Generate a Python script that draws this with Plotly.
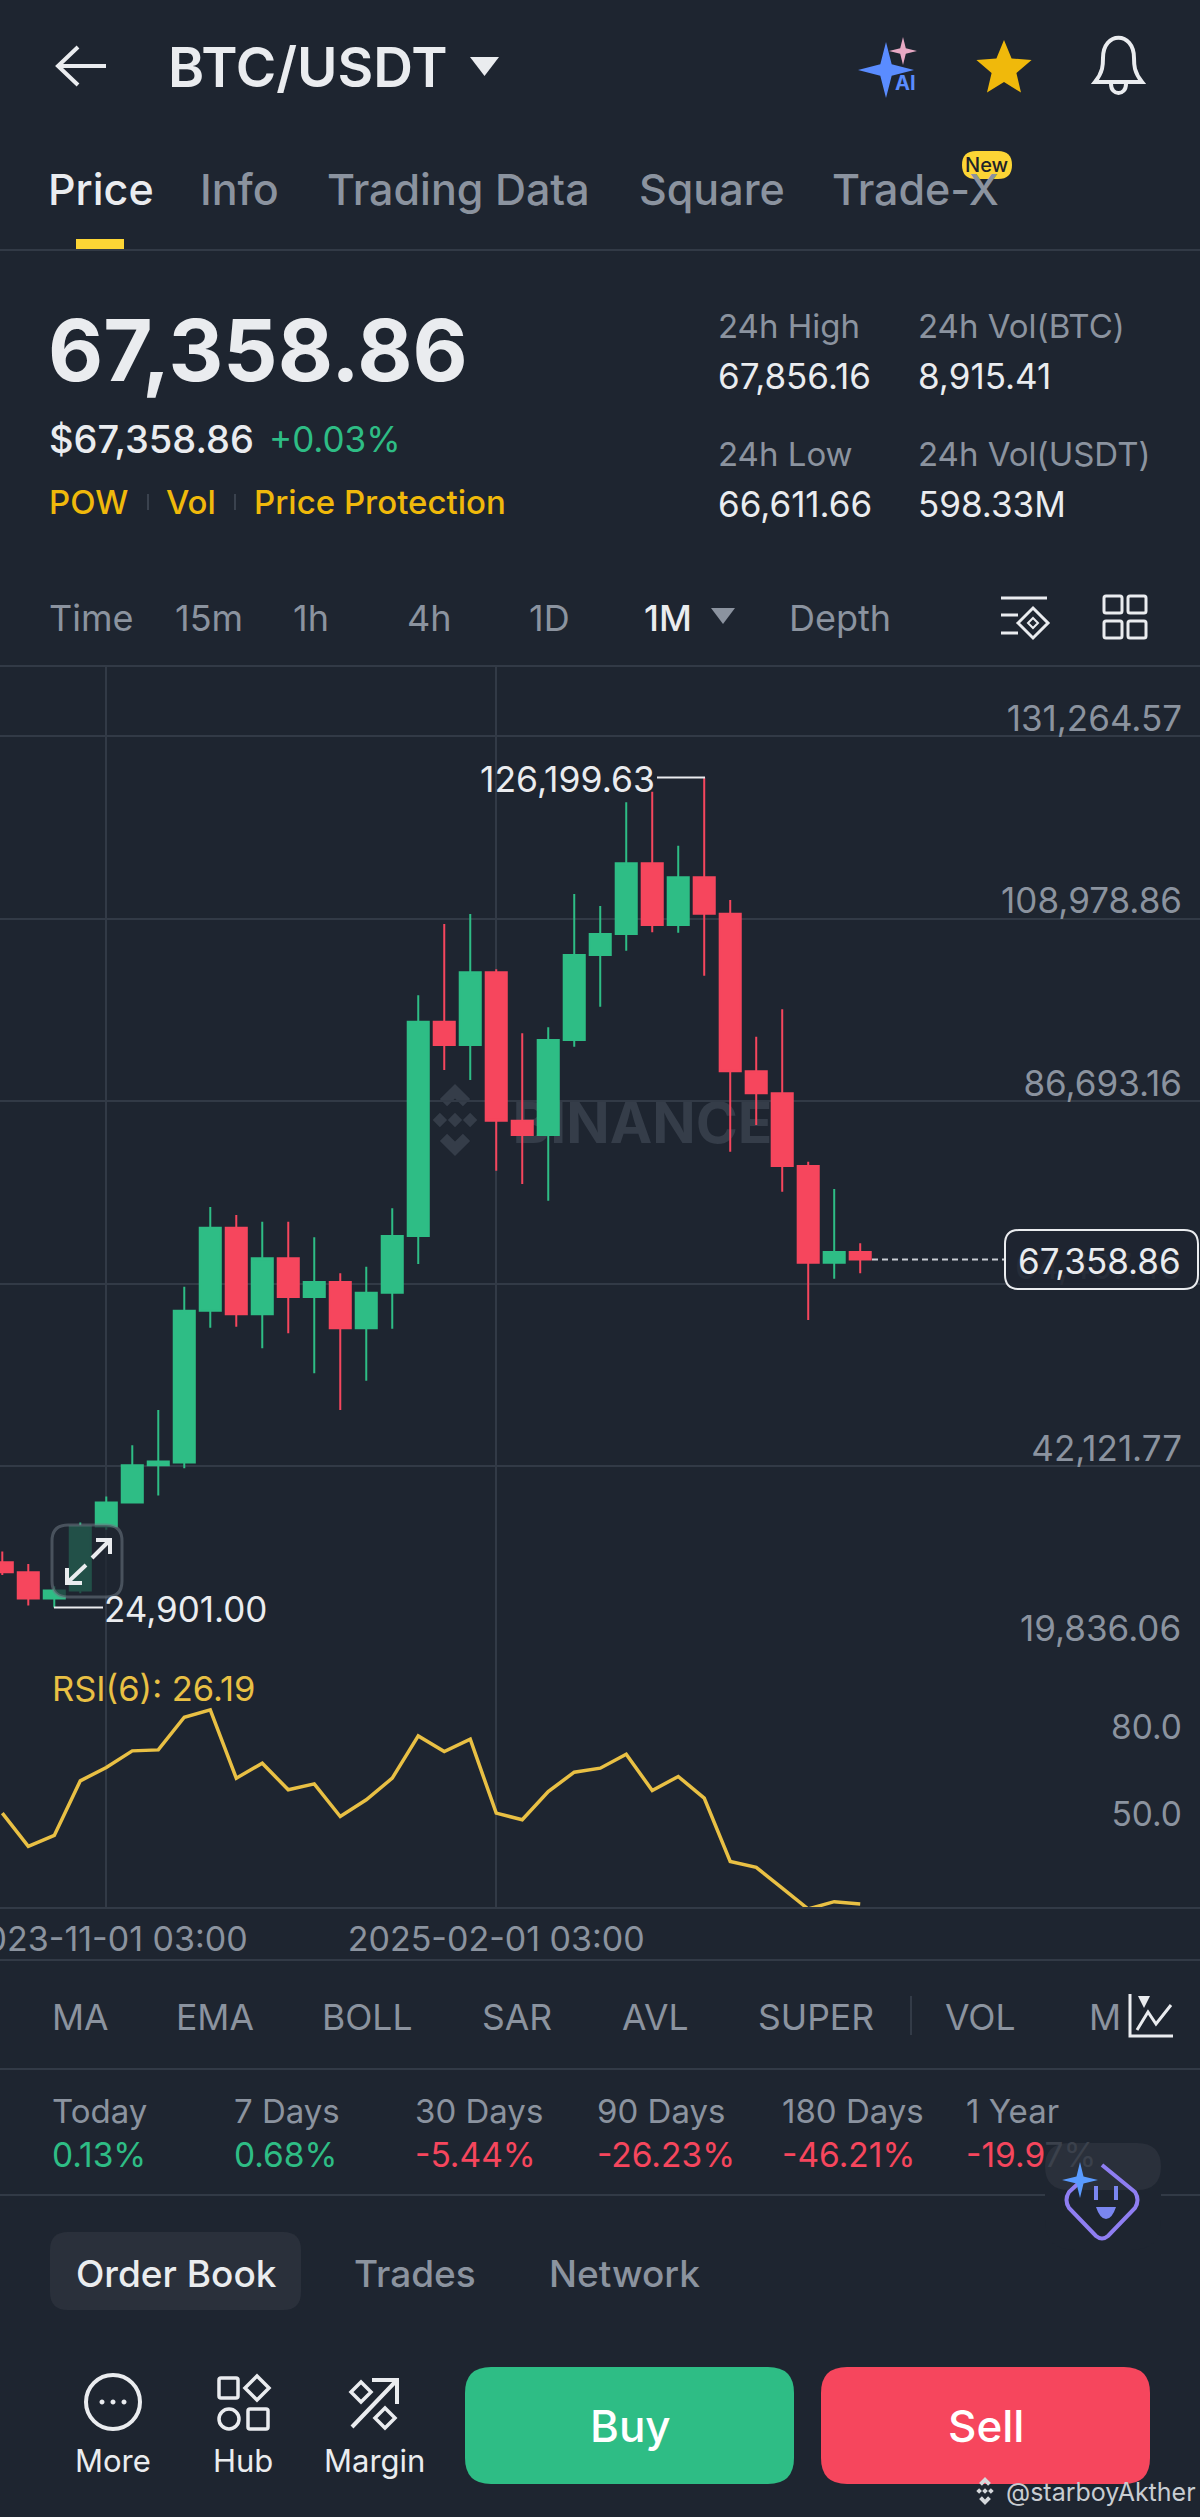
"""BTC/USDT monthly candles, Binance mobile screen."""

import math

import plotly.graph_objects as go

# Dados
MONTHS = [
    "2023-07-01 03:00", "2023-08-01 03:00", "2023-09-01 03:00", "2023-10-01 03:00",
    "2023-11-01 03:00", "2023-12-01 03:00", "2024-01-01 03:00", "2024-02-01 03:00",
    "2024-03-01 03:00", "2024-04-01 03:00", "2024-05-01 03:00", "2024-06-01 03:00",
    "2024-07-01 03:00", "2024-08-01 03:00", "2024-09-01 03:00", "2024-10-01 03:00",
    "2024-11-01 03:00", "2024-12-01 03:00", "2025-01-01 03:00", "2025-02-01 03:00",
    "2025-03-01 03:00", "2025-04-01 03:00", "2025-05-01 03:00", "2025-06-01 03:00",
    "2025-07-01 03:00", "2025-08-01 03:00", "2025-09-01 03:00", "2025-10-01 03:00",
    "2025-11-01 03:00", "2025-12-01 03:00", "2026-01-01 03:00", "2026-02-01 03:00",
    "2026-03-01 03:00", "2026-04-01 03:00",
]
OPEN = [
    30419, 29199, 25985, 26961, 34772, 37701, 42257, 42583, 61133, 71262, 60685, 67519,
    62801, 64631, 58977, 63329, 70245, 96402, 93555, 102423, 84320, 82571, 94165, 104538,
    107101, 115725, 108199, 114017, 109583, 90341, 87656, 78788, 66991, 68292,
]
HIGH = [
    31721, 30216, 27480, 35260, 38433, 44698, 49010, 64062, 73784, 72808, 71994, 71994,
    70082, 65689, 66502, 73621, 99616, 108321, 109542, 102789, 94978, 95711, 111983, 110518,
    123170, 124471, 117881, 126199.63, 111250, 94572, 97907, 79317, 75981, 69350,
]
LOW = [
    28873, 25131, 24901, 26635, 34400, 37620, 38555, 41891, 59058, 59180, 56536, 58366,
    53485, 49010, 52590, 58936, 66828, 90504, 89283, 78218, 76591, 74557, 93351, 98233,
    105067, 107304, 107263, 102016, 80537, 83791, 75655, 59994, 65038, 65689,
]
CLOSE = [
    29199, 25985, 26961, 34772, 37701, 42257, 42705, 61133, 71262, 60685, 67519, 62801,
    64631, 58977, 63329, 70245, 96402, 93555, 102423, 84320, 82571, 94165, 104538, 107101,
    115725, 108199, 114017, 109583, 90341, 87656, 78788, 66991, 68292, 67358.86,
]
RSI = [
    57.68, 46.14, 49.95, 68.87, 73.48, 79.25, 79.59, 90.90, 93.43, 69.79, 74.98, 65.75,
    67.83, 56.52, 62.29, 69.79, 84.44, 79.02, 83.28, 57.68, 55.37, 65.18, 71.86, 73.25,
    78.09, 65.52, 70.37, 62.87, 40.95, 38.88, 31.73, 24.46, 27.00, 26.19,
]
PRICE_TICKS = [131264.57, 108978.86, 86693.16, 64407.46, 42121.77, 19836.06]
RSI_TICKS = [80, 50]
DATE_TICKS = ["2023-11-01 03:00", "2025-02-01 03:00"]
LAST_PRICE = 67358.86
HIGH_PRICE = 126199.63

TABS = ["Price", "Info", "Trading Data", "Square", "Trade-X"]
TIMEFRAMES = ["Time", "15m", "1h", "4h", "1D", "1M", "Depth"]
INDICATORS = ["MA", "EMA", "BOLL", "SAR", "AVL", "SUPER", "VOL", "M"]
PERIODS = ["Today", "7 Days", "30 Days", "90 Days", "180 Days", "1 Year"]
PERIOD_CHANGES = ["0.13%", "0.68%", "-5.44%", "-26.23%", "-46.21%", "-19.9<span style='color:#3B414C'>7%</span>"]
STAT_LABELS = ["24h High", "24h Vol(BTC)", "24h Low", "24h Vol(USDT)"]
STAT_VALUES = ["67,856.16", "8,915.41", "66,611.66", "598.33M"]
TAGS = ["POW", "Vol", "Price Protection"]
BOOK_TABS = ["Order Book", "Trades", "Network"]
TOOLS = ["More", "Hub", "Margin"]

# Cores do tema
BG = "#1E2530"
GRID = "#323A46"
WHITE = "#EAECEF"
GRAY = "#8B939F"
GREEN = "#2EBD85"
RED = "#F6465D"
GOLD = "#F0B90B"
YELLOW = "#FCD535"
RSI_LINE = "#E9C044"
MARK = "#353D49"
FONT = "Inter, Roboto, sans-serif"

W, H = 1200, 2517
PRICE_TOP, PRICE_BOTTOM, RSI_BOTTOM = 666, 1649, 1908

shapes = []
annotations = []


def text(x, y, s, size, color=WHITE, anchor="left", weight=400):
    annotations.append(
        dict(
            x=x, y=y, xref="x3", yref="y3", text=s, showarrow=False,
            xanchor=anchor, yanchor="middle", borderpad=0,
            font=dict(family=FONT, size=size, color=color, weight=weight),
        )
    )


def path(d, fill="rgba(0,0,0,0)", line=None, width=0):
    shapes.append(
        dict(
            type="path", path=d, xref="x3", yref="y3", fillcolor=fill,
            line=dict(color=line or "rgba(0,0,0,0)", width=width),
        )
    )


def hline(y, x0=0, x1=W, color=GRID, width=2):
    path(f"M {x0} {y} L {x1} {y}", line=color, width=width)


def rrect(x0, y0, x1, y1, r):
    return (
        f"M {x0 + r} {y0} L {x1 - r} {y0} Q {x1} {y0} {x1} {y0 + r} "
        f"L {x1} {y1 - r} Q {x1} {y1} {x1 - r} {y1} L {x0 + r} {y1} "
        f"Q {x0} {y1} {x0} {y1 - r} L {x0} {y0 + r} Q {x0} {y0} {x0 + r} {y0} Z"
    )


def circle(cx, cy, r):
    k = r * 0.552
    return (
        f"M {cx - r} {cy} C {cx - r} {cy - k} {cx - k} {cy - r} {cx} {cy - r} "
        f"C {cx + k} {cy - r} {cx + r} {cy - k} {cx + r} {cy} "
        f"C {cx + r} {cy + k} {cx + k} {cy + r} {cx} {cy + r} "
        f"C {cx - k} {cy + r} {cx - r} {cy + k} {cx - r} {cy} Z"
    )


def diamond(cx, cy, r):
    return f"M {cx} {cy - r} L {cx + r} {cy} L {cx} {cy + r} L {cx - r} {cy} Z"


def star(cx, cy, r_out, r_in, n=5):
    pts = []
    for i in range(n * 2):
        r = r_out if i % 2 == 0 else r_in
        a = -math.pi / 2 + i * math.pi / n
        pts.append(f"{cx + r * math.cos(a):.1f} {cy + r * math.sin(a):.1f}")
    return "M " + " L ".join(pts) + " Z"


def triangle(x0, x1, y0, y1):
    return f"M {x0} {y0} L {x1} {y0} L {(x0 + x1) / 2} {y1} Z"


def logo_parts(cx, cy, s):
    """Diamantes do logo, em unidades de pixel."""
    return [
        [(cx, cy - s * 0.2), (cx + s * 0.2, cy), (cx, cy + s * 0.2), (cx - s * 0.2, cy)],
        [(cx - s * 0.62, cy), (cx - s * 0.42, cy - s * 0.2), (cx - s * 0.22, cy), (cx - s * 0.42, cy + s * 0.2)],
        [(cx + s * 0.62, cy), (cx + s * 0.42, cy - s * 0.2), (cx + s * 0.22, cy), (cx + s * 0.42, cy + s * 0.2)],
        [(cx, cy - s), (cx + s * 0.42, cy - s * 0.58), (cx + s * 0.22, cy - s * 0.38), (cx, cy - s * 0.6),
         (cx - s * 0.22, cy - s * 0.38), (cx - s * 0.42, cy - s * 0.58)],
        [(cx, cy + s), (cx + s * 0.42, cy + s * 0.58), (cx + s * 0.22, cy + s * 0.38), (cx, cy + s * 0.6),
         (cx - s * 0.22, cy + s * 0.38), (cx - s * 0.42, cy + s * 0.58)],
    ]


fig = go.Figure()

fig.add_trace(
    go.Candlestick(
        x=MONTHS, open=OPEN, high=HIGH, low=LOW, close=CLOSE,
        increasing=dict(line=dict(color=GREEN, width=2), fillcolor=GREEN),
        decreasing=dict(line=dict(color=RED, width=2), fillcolor=RED),
        xaxis="x", yaxis="y", showlegend=False,
    )
)
fig.add_trace(
    go.Scatter(
        x=MONTHS, y=RSI, mode="lines", line=dict(color=RSI_LINE, width=3.5),
        xaxis="x2", yaxis="y2", showlegend=False, cliponaxis=False,
    )
)
# Eixos auxiliares em pixels para a interface do app
fig.add_trace(go.Scatter(x=[], y=[], xaxis="x3", yaxis="y3", showlegend=False))

# Marca d'agua, abaixo das velas
for part in logo_parts(455, 1120, 36):
    d = "M " + " L ".join(f"{x / W:.5f} {1 - y / H:.5f}" for x, y in part) + " Z"
    shapes.append(
        dict(type="path", path=d, xref="paper", yref="paper", fillcolor=MARK,
             line=dict(width=0), layer="below")
    )
shapes.append(
    dict(
        type="rect", xref="paper", yref="paper", x0=495 / W, x1=790 / W,
        y0=1 - 1150 / H, y1=1 - 1090 / H, line=dict(width=0),
        fillcolor="rgba(0,0,0,0)", layer="below",
        label=dict(text="BINANCE", textposition="middle center",
                   font=dict(family=FONT, size=57, color=MARK, weight=700)),
    )
)

# Cabecalho
path("M 106 66 L 58 66 M 78 47 L 58 66 L 78 85", line=WHITE, width=4)
text(167, 67, "BTC/USDT", 55, anchor="left", weight=600)
path(triangle(470, 499, 57, 76), fill=WHITE)
path(star(886, 70, 28, 8, 4), fill="#5A8CFF")
path(star(903, 51, 14, 4, 4), fill="#E8A9C4")
text(905, 83, "AI", 20, color="#5A8CFF", anchor="center", weight=700)
path(star(1004, 69, 29, 13), fill=GOLD)
path(
    "M 1095 82 C 1103 72 1103 65 1103 58 C 1103 31 1134 31 1134 58 C 1134 65 1134 72 1142 82 Z "
    "M 1111 84 C 1111 96 1126 96 1126 84",
    line=WHITE, width=4,
)

# Abas
for label, x, color in zip(TABS, [47, 199, 326, 638, 831], [WHITE, GRAY, GRAY, GRAY, GRAY]):
    text(x, 189, label, 43, color=color, weight=500)
path(rrect(962, 151, 1012, 179, 14), fill=YELLOW)
text(987, 165, "New", 20, color="#1E2329", anchor="center", weight=500)
path("M 76 239 L 124 239 L 124 249 L 76 249 Z", fill=YELLOW)
hline(250)

# Preco
text(47, 350, "67,358.86", 85, weight=700)
text(48, 439, "$67,358.86", 38, weight=500)
text(268, 439, "+0.03%", 35, color=GREEN)
for label, x in zip(TAGS, [48, 165, 253]):
    text(x, 502, label, 33, color=GOLD, weight=500)
for x in [148, 235]:
    path(f"M {x} 494 L {x} 510", line="#3A424E", width=2)
for label, x, y in zip(STAT_LABELS, [717, 917, 717, 917], [326, 326, 454, 454]):
    text(x, y, label, 33, color=GRAY)
for value, x, y in zip(STAT_VALUES, [717, 917, 717, 917], [376, 376, 504, 504]):
    text(x, y, value, 35)

# Intervalos
for label, x in zip(TIMEFRAMES, [48, 174, 292, 406, 528, 643, 788]):
    active = label == "1M"
    text(x, 618, label, 36, color=WHITE if active else GRAY, weight=500 if active else 400)
path(triangle(711, 735, 608, 624), fill=GRAY)
path("M 1001 598 L 1047 598 M 1001 615 L 1018 615 M 1001 633 L 1018 633", line=WHITE, width=3)
path(diamond(1033, 623, 15), line=WHITE, width=3)
path(diamond(1033, 623, 5), line=WHITE, width=2)
for x0, y0 in [(1104, 596), (1128, 596), (1104, 621), (1128, 621)]:
    path(rrect(x0, y0, x0 + 18, y0 + 17, 2), line=WHITE, width=3)
hline(PRICE_TOP)

# Rotulos do grafico
shapes.append(
    dict(type="line", xref="x3", yref="y", x0=657, x1=705, y0=HIGH_PRICE, y1=HIGH_PRICE,
         line=dict(color=WHITE, width=2))
)
text(656, 779, "126,199.63", 35.5, anchor="right")
shapes.append(
    dict(type="line", xref="x3", yref="y", x0=54, x1=103, y0=LOW[2], y1=LOW[2],
         line=dict(color=WHITE, width=2))
)
text(103, 1609, "24,901.00", 35)
shapes.append(
    dict(type="line", xref="x3", yref="y", x0=872, x1=1005, y0=LAST_PRICE, y1=LAST_PRICE,
         line=dict(color="#C8CCD2", width=2, dash="6px,4px"))
)
path(rrect(1005, 1230, 1198, 1289, 14), fill="rgba(30,37,48,0.93)", line=WHITE, width=2)
text(1182, 1261, "67,358.86", 35, anchor="right")
text(51, 1688, "RSI(6): 26.19", 34.5, color=RSI_LINE)
# O ultimo rotulo sairia do dominio do eixo e seria escondido pelo plotly
text(1182, 1628, f"{PRICE_TICKS[-1]:,.2f}", 35, color=GRAY, anchor="right")

# Botao de expandir
path(rrect(52, 1525, 122, 1597, 16), fill="rgba(30,37,48,0.72)", line="rgba(110,120,132,0.55)", width=3)
path("M 92 1558 L 109 1541 M 96 1540 L 110 1540 L 110 1554", line=WHITE, width=4)
path("M 86 1565 L 68 1582 M 82 1583 L 67 1583 L 67 1568", line=WHITE, width=4)

# Linhas do painel RSI
hline(RSI_BOTTOM)
hline(1960)

# Indicadores
for label, x in zip(INDICATORS, [51, 175, 321, 481, 621, 757, 944, 1088]):
    text(x, 2017, label, 35.5, color=GRAY)
path("M 911 1996 L 911 2035", line="#333B47", width=2)
path("M 1118 1990 L 1200 1990 L 1200 2045 L 1118 2045 Z", fill=BG)
path("M 1130 1994 L 1130 2036 L 1173 2036", line=WHITE, width=3)
path(triangle(1138, 1150, 1996, 2008), fill=WHITE)
path("M 1137 2030 L 1148 2012 L 1156 2024 L 1171 2005", line=WHITE, width=3)
hline(2069)

# Variacoes por periodo
PERIOD_X = [51, 233, 414, 596, 781, 965]
for label, x in zip(PERIODS, PERIOD_X):
    text(x, 2111, label, 33, color=GRAY)
for value, x in zip(PERIOD_CHANGES, PERIOD_X):
    text(x, 2155, value, 33.5, color=RED if value.startswith("-") else GREEN)
hline(2195)

# Botao do assistente
path(rrect(1045, 2143, 1161, 2250, 30), fill=BG)
path(rrect(1045, 2143, 1161, 2190, 24), fill="#2A303B")
path(
    "M 1102 2165 L 1135 2192 Q 1140 2200 1135 2208 L 1108 2236 Q 1102 2241 1096 2236 "
    "L 1069 2208 Q 1064 2200 1069 2192 L 1082 2180",
    line="#8F7EF2", width=4,
)
path(star(1080, 2180, 18, 5, 4), fill="#5A9BFF")
path("M 1096 2186 L 1096 2200 M 1116 2186 L 1116 2200", line="#7A86F0", width=4)
path("M 1096 2207 L 1116 2207 Q 1112 2219 1106 2219 Q 1100 2219 1096 2207 Z", fill="#7A86F0")

# Abas do livro de ofertas
path(rrect(50, 2232, 301, 2310, 18), fill="#2A303B")
for label, x, color in zip(BOOK_TABS, [75, 353, 548], [WHITE, GRAY, GRAY]):
    text(x, 2273, label, 37, color=color, weight=500)

# Barra inferior
path(circle(113, 2402, 27), line=WHITE, width=4)
for x in [102, 113, 124]:
    path(circle(x, 2402, 2.5), fill=WHITE)
path(rrect(219, 2378, 238, 2398, 2), line=WHITE, width=3.5)
path(diamond(257, 2388, 12), line=WHITE, width=3.5)
path(circle(229, 2419, 10), line=WHITE, width=3.5)
path(rrect(248, 2409, 268, 2429, 2), line=WHITE, width=3.5)
path("M 352 2427 L 397 2380 M 372 2380 L 397 2380 L 397 2404", line=WHITE, width=4)
path(diamond(361, 2392, 10), line=WHITE, width=3.5)
path(diamond(385, 2418, 10), line=WHITE, width=3.5)
for label, x in zip(TOOLS, [113, 243, 374]):
    text(x, 2460, label, 31, anchor="center")
path(rrect(465, 2367, 794, 2484, 26), fill=GREEN)
text(630, 2426, "Buy", 44, color="#FFFFFF", anchor="center", weight=500)
path(rrect(821, 2367, 1150, 2484, 26), fill=RED)
text(986, 2426, "Sell", 44, color="#FFFFFF", anchor="center", weight=500)

# Assinatura
for part in logo_parts(985, 2491, 14):
    path("M " + " L ".join(f"{x} {y}" for x, y in part) + " Z", fill="#D5D8DC")
text(1005, 2492, "@starboyAkther", 25, color="#C9CDD2")

fig.update_layout(
    width=W, height=H, margin=dict(l=0, r=0, t=0, b=0, autoexpand=False), autosize=False,
    paper_bgcolor=BG, plot_bgcolor="rgba(0,0,0,0)", showlegend=False,
    boxgap=0.19, boxgroupgap=0, dragmode=False, hovermode=False,
    font=dict(family=FONT, color=GRAY),
    xaxis=dict(
        type="category", categoryorder="array", categoryarray=MONTHS,
        range=[-0.088, 46.07], domain=[0, 1], anchor="y", rangeslider=dict(visible=False),
        tickmode="array", tickvals=DATE_TICKS, showticklabels=False, ticks="",
        showgrid=True, gridcolor=GRID, gridwidth=1.5, zeroline=False,
    ),
    yaxis=dict(
        domain=[1 - PRICE_BOTTOM / H, 1 - PRICE_TOP / H], range=[19836.06, 139808],
        anchor="x", side="right", tickmode="array", tickvals=PRICE_TICKS,
        ticktext=[f"{v:,.2f}" for v in PRICE_TICKS[:-1]] + [""], ticklabelposition="inside top",
        ticks="", ticklabelstandoff=15, ticklabelshift=7,
        tickfont=dict(family=FONT, size=35, color=GRAY),
        showgrid=True, gridcolor=GRID, gridwidth=2, zeroline=False,
    ),
    xaxis2=dict(
        type="category", categoryorder="array", categoryarray=MONTHS,
        range=[-0.088, 46.07], domain=[0, 1], anchor="y2",
        tickmode="array", tickvals=DATE_TICKS, ticks="", ticklabeloverflow="allow",
        ticklabelstandoff=8, tickangle=0, tickfont=dict(family=FONT, size=34, color=GRAY),
        showgrid=True, gridcolor=GRID, gridwidth=1.5, zeroline=False,
    ),
    yaxis2=dict(
        domain=[1 - RSI_BOTTOM / H, 1 - PRICE_BOTTOM / H], range=[24.81, 114.54],
        anchor="x2", side="right", tickmode="array", tickvals=RSI_TICKS,
        ticktext=[f"{v:.1f}" for v in RSI_TICKS], ticklabelposition="inside top",
        ticks="", ticklabelstandoff=15, ticklabelshift=2,
        tickfont=dict(family=FONT, size=33.5, color=GRAY),
        showgrid=False, zeroline=False,
    ),
    xaxis3=dict(range=[0, W], domain=[0, 1], anchor="y3", visible=False, fixedrange=True),
    yaxis3=dict(range=[H, 0], domain=[0, 1], anchor="x3", visible=False, fixedrange=True),
    shapes=shapes,
    annotations=annotations,
)

fig.write_html(
    "out.html",
    config={"displayModeBar": False},
    post_script="document.body.style.margin='0';document.body.style.overflow='hidden';",
)
